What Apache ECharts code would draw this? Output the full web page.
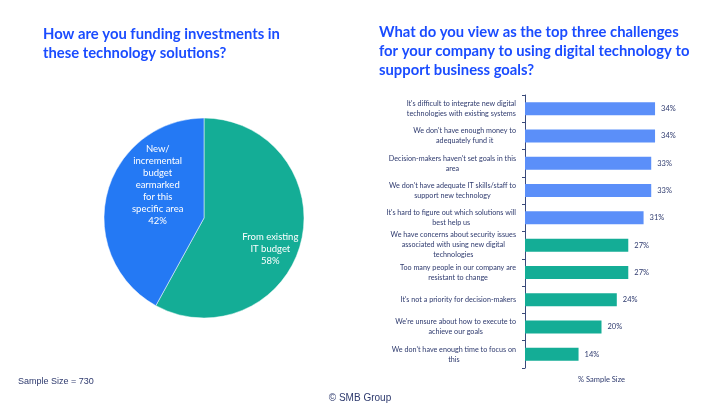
<!DOCTYPE html>
<html>
<head>
<meta charset="utf-8">
<script src="https://cdn.jsdelivr.net/npm/echarts@6/dist/echarts.min.js"></script>
<style>html,body{margin:0;padding:0;background:#fff}#c{width:720px;height:405px}</style>
</head>
<body>
<div id="c"></div>
<script>
const pieNames = ["From existing\nIT budget", "New/\nincremental\nbudget\nearmarked\nfor this\nspecific area"];
const pieValues = [58, 42];
const pieColors = ["#14ad96", "#2479f4"];

const barCategories = [
  "It's difficult to integrate new digital\ntechnologies with existing systems",
  "We don't have enough money to\nadequately fund it",
  "Decision-makers haven't set goals in this\narea",
  "We don't have adequate IT skills/staff to\nsupport new technology",
  "It's hard to figure out which solutions will\nbest help us",
  "We have concerns about security issues\nassociated with using new digital\ntechnologies",
  "Too many people in our company are\nresistant to change",
  "It's not a priority for decision-makers",
  "We're unsure about how to execute to\nachieve our goals",
  "We don't have enough time to focus on\nthis"
];
const barValues = [34, 34, 33, 33, 31, 27, 27, 24, 20, 14];
const barGroups = ["top", "top", "top", "top", "top", "other", "other", "other", "other", "other"];
const groupColors = { top: "#5b8ff9", other: "#14ad96" };

const chart = echarts.init(document.getElementById('c'));
const navy = '#2e3a6e';
chart.setOption({
  animation: false,
  backgroundColor: '#fff',
  title: [
    { text: 'How are you funding investments in\nthese technology solutions?', left: 38, top: 20,
      textStyle: { fontFamily: 'Lato', fontWeight: 'bold', fontSize: 14.8, lineHeight: 19, color: '#1a4cff' } },
    { text: 'What do you view as the top three challenges\nfor your company to using digital technology to\nsupport business goals?', left: 374, top: 18,
      textStyle: { fontFamily: 'Lato', fontWeight: 'bold', fontSize: 14.8, lineHeight: 19, color: '#1a4cff' } },
    { text: 'Sample Size = 730', left: 13, top: 372,
      textStyle: { fontFamily: 'Liberation Sans', fontWeight: 'normal', fontSize: 9, color: navy } },
    { text: '© SMB Group', left: 'center', top: 388,
      textStyle: { fontFamily: 'Liberation Sans', fontWeight: 'normal', fontSize: 10, color: navy } }
  ],
  grid: { left: 525, top: 95, bottom: 37, right: 42, containLabel: false },
  xAxis: {
    type: 'value', min: 0, max: 40,
    axisLine: { show: false }, axisTick: { show: false }, axisLabel: { show: false }, splitLine: { show: false },
    name: '% Sample Size', nameLocation: 'middle', nameGap: 8,
    nameTextStyle: { fontFamily: 'Lato', fontSize: 7.5, color: navy }
  },
  yAxis: {
    type: 'category', inverse: true, data: barCategories,
    axisLine: { show: true, lineStyle: { color: '#3a4a7a', width: 1 } },
    axisTick: { show: true, length: 3, lineStyle: { color: '#3a4a7a' } },
    axisLabel: {
      margin: 9, align: 'right', color: navy, fontFamily: 'Lato', fontSize: 7.2, lineHeight: 10,
      formatter: v => v.split('\n').map(l => '{c|' + l + '}').join('\n'),
      rich: { c: { align: 'center', fontFamily: 'Lato', fontSize: 7.2, lineHeight: 10, color: navy } }
    }
  },
  series: [
    {
      type: 'pie', center: [204, 218], radius: 100, startAngle: 90, clockwise: true,
      itemStyle: { borderColor: '#ffffff', borderWidth: 0.5 },
      label: { show: true, position: 'inside', color: '#fff', fontFamily: 'Lato', fontSize: 9.5, lineHeight: 12,
        formatter: p => p.name + '\n' + p.value + '%' },
      labelLayout: p => p.dataIndex === 0 ? { dx: 15, dy: 18 } : { dx: 5, dy: -20 },
      labelLine: { show: false },
      data: pieValues.map((v, i) => ({ value: v, name: pieNames[i], itemStyle: { color: pieColors[i] } }))
    },
    {
      type: 'bar', barWidth: 13,
      label: { show: true, position: 'right', distance: 6, formatter: '{c}%', color: navy, fontFamily: 'Lato', fontSize: 7.5 },
      data: barValues.map((v, i) => ({ value: v, itemStyle: { color: groupColors[barGroups[i]] } }))
    }
  ]
});
</script>
</body>
</html>
